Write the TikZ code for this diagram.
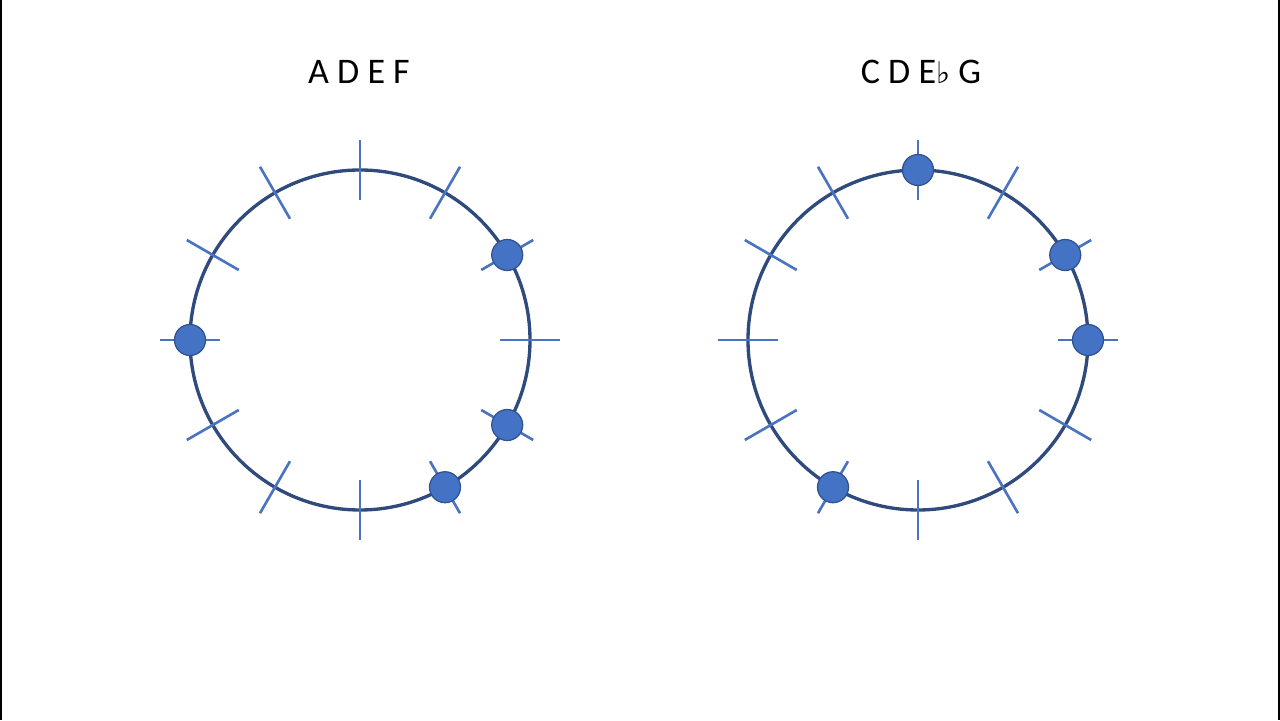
\documentclass[tikz,border=0pt]{standalone}
\usepackage{fontspec}
\setmainfont{Carlito}
\newfontfamily\flatfont{DejaVu Sans}
\usepackage{tikz}
\definecolor{ringblue}{HTML}{2F4A7C}
\definecolor{spokeblue}{HTML}{4A74C0}
\definecolor{dotblue}{HTML}{4472C4}
\definecolor{dotedge}{HTML}{2F528F}

\begin{document}
\begin{tikzpicture}[
    every node/.style={font=\fontsize{20.5}{24}\selectfont},
    ring/.style={
      draw=ringblue, line width=1.9pt,
      circle, minimum size=6.8cm, inner sep=0pt, outer sep=0pt
    },
    spoke/.style={draw=spokeblue, line width=1.5pt},
    pitch/.style={
      circle, fill=dotblue, draw=dotedge, line width=0.7pt,
      minimum size=0.62cm, inner sep=0pt
    },
    title/.style={anchor=base, inner sep=0pt}
  ]

    \useasboundingbox (0,0) rectangle (25.6,14.4);
    \fill[black] (0,0) rectangle (0.04,14.4);
    \fill[black] (25.56,0) rectangle (25.6,14.4);

    % the two rings
    \node[ring] (leftring) at (7.2,7.6) {};
    \node[ring] (rightring) at (18.36,7.6) {};

    % twelve ticks on each ring
    \foreach \a in {0,30,...,330} {
      \draw[spoke] (leftring.center) ++(\a:2.8) -- ++(\a:1.2);
      \draw[spoke] (rightring.center) ++(\a:2.8) -- ++(\a:1.2);
    }

    % titles
    \node[title] (lefttitle) at (7.18,12.72) {A D E F};
    \node[title] (righttitle) at (18.42,12.72)
      {C D E{\flatfont\fontsize{17}{17}\selectfont ♭} G};

    % pitches, left ring
    \node[pitch] (leftA) at (leftring.180) {};
    \node[pitch] (leftD) at (leftring.30) {};
    \node[pitch] (leftE) at (leftring.-30) {};
    \node[pitch] (leftF) at (leftring.-60) {};

    % pitches, right ring
    \node[pitch] (rightC) at (rightring.90) {};
    \node[pitch] (rightD) at (rightring.30) {};
    \node[pitch] (rightEb) at (rightring.0) {};
    \node[pitch] (rightG) at (rightring.240) {};

  \end{tikzpicture}
\end{document}
